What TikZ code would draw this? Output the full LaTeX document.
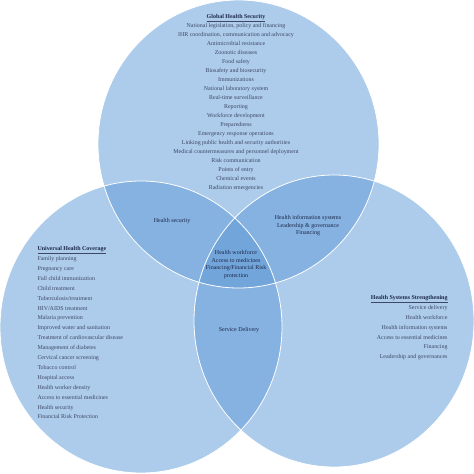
\documentclass[tikz,border=0pt]{standalone}
\usepackage{fontspec}
\setmainfont{Liberation Serif}
\usepackage{tikz}

\definecolor{vennblue}{RGB}{97,155,215}
\definecolor{listtext}{RGB}{62,72,102}
\definecolor{lapdark}{RGB}{28,38,72}

\begin{document}
\begin{tikzpicture}[x=1pt,y=-1pt,
    venn/.style = {fill = vennblue, fill opacity = 0.52},
    rim/.style = {draw = white, line width = 0.8pt},
    biglist/.style = {inner sep = 0pt, text = listtext,
                      font = \fontsize{5.95}{9}\selectfont},
    lap/.style = {inner sep = 0pt, text = lapdark, align = center,
                  font = \fontsize{6}{7.8}\selectfont}
    ]

    \useasboundingbox (0,0) rectangle (474,474);

    \coordinate (ghs) at (238.5,144);
    \coordinate (uhc) at (141,327);
    \coordinate (hss) at (334,321);

    % the three sets
    \fill[venn] (ghs) ellipse [x radius = 140.5pt, y radius = 144pt];
    \fill[venn] (uhc) ellipse [x radius = 141pt, y radius = 146pt];
    \fill[venn] (hss) ellipse [x radius = 140pt, y radius = 146pt];
    \draw[rim] (ghs) ellipse [x radius = 140.5pt, y radius = 144pt];
    \draw[rim] (uhc) ellipse [x radius = 141pt, y radius = 146pt];
    \draw[rim] (hss) ellipse [x radius = 140pt, y radius = 146pt];

    \node[biglist,
          align = center,
          anchor = north
          ] (ghslist) at (236,14.3) {%
        \underline{\textbf{\textcolor{lapdark}{Global Health Security}}}\\
        National legislation, policy and financing\\
        IHR coordination, communication and advocacy\\
        Antimicrobial resistance\\
        Zoonotic diseases\\
        Food safety\\
        Biosafety and biosecurity\\
        Immunizations\\
        National laboratory system\\
        Real-time surveillance\\
        Reporting\\
        Workforce development\\
        Preparedness\\
        Emergency response operations\\
        Linking public health and security authorities\\
        Medical countermeasures and personnel deployment\\
        Risk communication\\
        Points of entry\\
        Chemical events\\
        Radiation emergencies};

    \node[biglist,
          align = left,
          anchor = north west
          ] (uhclist) at (37.3,246.3) {%
        \underline{\textbf{\textcolor{lapdark}{Universal Health Coverage}}}\\[0.9pt]
        Family planning\\[0.9pt]
        Pregnancy care\\[0.9pt]
        Full child immunization\\[0.9pt]
        Child treatment\\[0.9pt]
        Tuberculosis/treatment\\[0.9pt]
        HIV/AIDS treatment\\[0.9pt]
        Malaria prevention\\[0.9pt]
        Improved water and sanitation\\[0.9pt]
        Treatment of cardiovascular disease\\[0.9pt]
        Management of diabetes\\[0.9pt]
        Cervical cancer screening\\[0.9pt]
        Tobacco control\\[0.9pt]
        Hospital access\\[0.9pt]
        Health worker density\\[0.9pt]
        Access to essential medicines\\[0.9pt]
        Health security\\[0.9pt]
        Financial Risk Protection};

    \node[biglist,
          align = right,
          anchor = north east
          ] (hsslist) at (447.7,295.3) {%
        \underline{\textbf{\textcolor{lapdark}{Health Systems Strengthening}}}\\[0.85pt]
        Service delivery\\[0.85pt]
        Health workforce\\[0.85pt]
        Health information systems\\[0.85pt]
        Access to essential medicines\\[0.85pt]
        Financing\\[0.85pt]
        Leadership and governances};

    % overlaps
    \node[lap] (ghsuhc) at (172,221) {Health security};
    \node[lap, anchor = north] (ghshss) at (308,214.8) {%
        Health information systems\\
        Leadership \& governance\\
        Financing};
    \node[lap, anchor = north] (allthree) at (236,249.8) {%
        Health workforce\\
        Access to medicines\\
        Financing/Financial Risk\\
        protection};
    \node[lap] (uhchss) at (239,330) {Service Delivery};

\end{tikzpicture}
\end{document}
